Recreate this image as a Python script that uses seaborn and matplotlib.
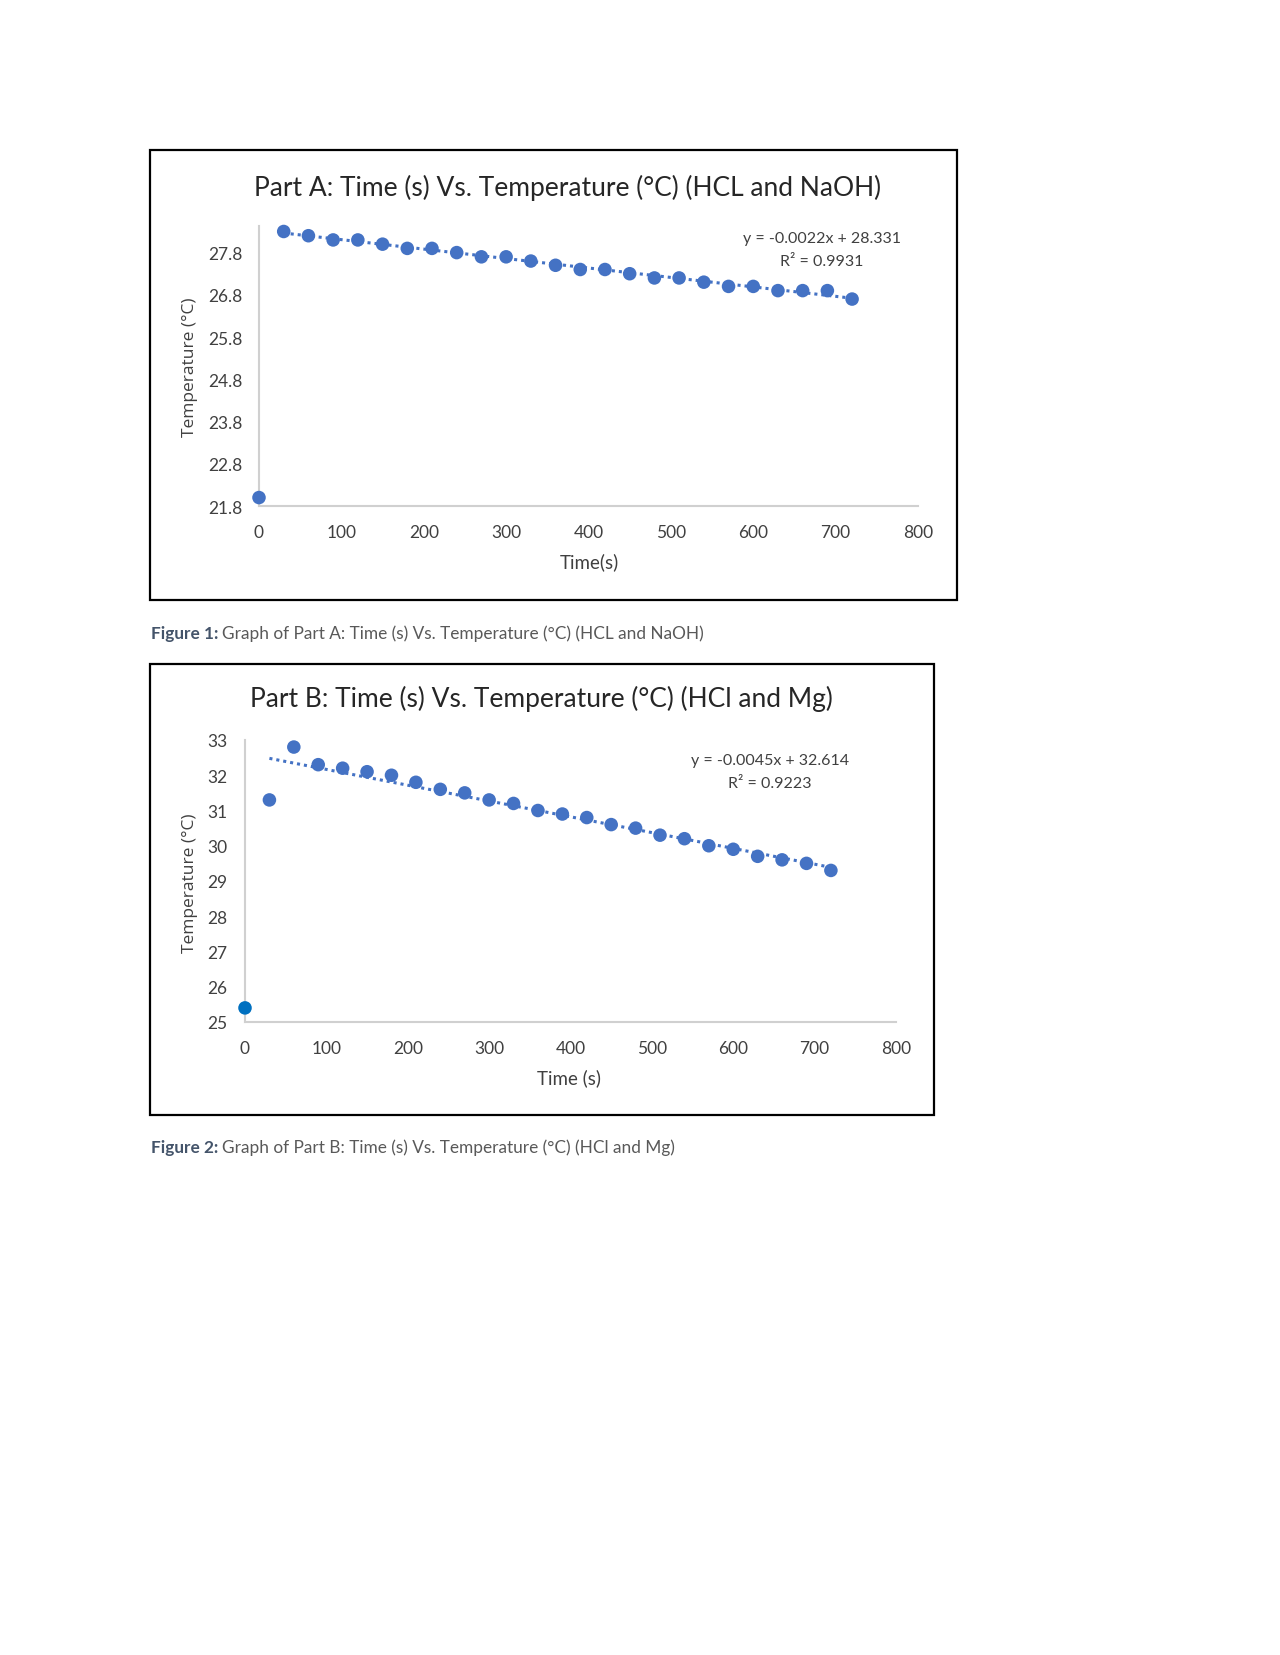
import matplotlib
matplotlib.use("Agg")
import matplotlib.pyplot as plt
import numpy as np
import pandas as pd
import seaborn as sns
from matplotlib.patches import Rectangle

# === data
time_s = [0, 30, 60, 90, 120, 150, 180, 210, 240, 270, 300, 330, 360,
          390, 420, 450, 480, 510, 540, 570, 600, 630, 660, 690, 720]
temp_a = [22.0, 28.3, 28.2, 28.1, 28.1, 28.0, 27.9, 27.9, 27.8, 27.7, 27.7, 27.6, 27.5,
          27.4, 27.4, 27.3, 27.2, 27.2, 27.1, 27.0, 27.0, 26.9, 26.9, 26.9, 26.7]
temp_b = [25.4, 31.3, 32.8, 32.3, 32.2, 32.1, 32.0, 31.8, 31.6, 31.5, 31.3, 31.2, 31.0,
          30.9, 30.8, 30.6, 30.5, 30.3, 30.2, 30.0, 29.9, 29.7, 29.6, 29.5, 29.3]

yticks_a = [21.8, 22.8, 23.8, 24.8, 25.8, 26.8, 27.8]
yticks_b = [25, 26, 27, 28, 29, 30, 31, 32, 33]
xticks = [0, 100, 200, 300, 400, 500, 600, 700, 800]

eq_a = ["y = -0.0022x + 28.331", "R² = 0.9931"]
eq_b = ["y = -0.0045x + 32.614", "R² = 0.9223"]

sns.set_theme(style="white")
plt.rcParams["font.family"] = ["Lato", "DejaVu Sans"]

W, H = 1280, 1656
fig = plt.figure(figsize=(W / 100, H / 100), dpi=100)
fig.patch.set_facecolor("white")

BLUE = "#4472C4"
FIRST = "#0070C0"
AXC = "#D0D0D0"
TXT = "#404040"


def fx(x):
    return x / W


def fy(y):
    return 1 - y / H


def box(x0, y0, x1, y1):
    fig.add_artist(Rectangle((fx(x0), fy(y1)), fx(x1) - fx(x0), fy(y0) - fy(y1),
                             transform=fig.transFigure, fill=False,
                             edgecolor="black", linewidth=1.6))


def chart(rect, temps, ylim, yticks, yfmt, title, title_xy, xlabel, xlabel_xy,
          ylabel_xy, eq, eq_xy, first_color, ypad):
    l, t, r, b = rect
    ax = fig.add_axes([fx(l), fy(b), fx(r) - fx(l), fy(t) - fy(b)])
    df = pd.DataFrame({"t": time_s, "T": temps})
    rest = df.iloc[1:]
    # trendline fitted on the points after t=0, like the Excel chart
    sns.regplot(data=rest, x="t", y="T", ax=ax, scatter=False, ci=None, truncate=True,
                line_kws=dict(color=BLUE, linestyle=(0, (1, 1.3)), linewidth=2.2))
    sns.scatterplot(data=rest, x="t", y="T", ax=ax, color=BLUE, s=95,
                    edgecolor="none", zorder=3, clip_on=False)
    sns.scatterplot(data=df.iloc[:1], x="t", y="T", ax=ax, color=first_color, s=95,
                    edgecolor="none", zorder=3, clip_on=False)
    ax.set_xlim(0, 800)
    ax.set_ylim(*ylim)
    ax.set_xticks(xticks)
    ax.set_yticks(yticks)
    ax.set_yticklabels([yfmt.format(v) for v in yticks])
    ax.tick_params(axis="both", length=0, labelsize=12.5, colors=TXT)
    ax.tick_params(axis="x", pad=12.7)
    ax.tick_params(axis="y", pad=ypad)
    ax.set_xlabel("")
    ax.set_ylabel("")
    for s in ["top", "right"]:
        ax.spines[s].set_visible(False)
    for s in ["left", "bottom"]:
        ax.spines[s].set_color(AXC)
        ax.spines[s].set_linewidth(1.5)
    ax.patch.set_alpha(0)

    fig.text(fx(title_xy[0]), fy(title_xy[1]), title, ha="center", va="center",
             fontsize=19, color="#262626")
    fig.text(fx(xlabel_xy[0]), fy(xlabel_xy[1]), xlabel, ha="center", va="center",
             fontsize=13.5, color=TXT)
    fig.text(fx(ylabel_xy[0]), fy(ylabel_xy[1]), "Temperature (°C)", ha="center",
             va="center", rotation=90, fontsize=12.5, color=TXT,
             family=["Open Sans", "DejaVu Sans"])
    fig.text(fx(eq_xy[0]), fy(eq_xy[1]), eq[0], ha="center", va="center",
             fontsize=11.5, color=TXT)
    fig.text(fx(eq_xy[0]), fy(eq_xy[1] + 23), eq[1], ha="center", va="center",
             fontsize=11.5, color=TXT)
    return ax


def caption(x, y, bold, rest):
    t1 = fig.text(fx(x), fy(y), bold, ha="left", va="center", fontsize=12.4,
                  fontweight="bold", color="#44546A")
    r = fig.canvas.get_renderer()
    bb = t1.get_window_extent(renderer=r)
    fig.text(fx(bb.x1 + 4), fy(y), rest, ha="left", va="center", fontsize=12.4,
             color="#595959")


# === Part A
box(150, 151, 957, 601)
chart((259, 227, 918, 507), temp_a, (21.8, 28.43), yticks_a, "{:.1f}",
      "Part A: Time (s) Vs. Temperature (°C) (HCL and NaOH)", (568, 188),
      "Time(s)", (589, 562), (190, 367), eq_a, (822, 239), BLUE, 12)
caption(151, 634, "Figure 1:", "Graph of Part A: Time (s) Vs. Temperature (°C) (HCL and NaOH)")

# === Part B
box(150, 665, 934, 1116)
chart((245, 741, 896, 1023), temp_b, (25, 33), yticks_b, "{:.0f}",
      "Part B: Time (s) Vs. Temperature (°C) (HCl and Mg)", (541, 699),
      "Time (s)", (569, 1078), (190, 883), eq_b, (770, 761), FIRST, 12.5)
caption(151, 1148, "Figure 2:", "Graph of Part B: Time (s) Vs. Temperature (°C) (HCl and Mg)")

fig.savefig("out.png", dpi=100, facecolor="white")
